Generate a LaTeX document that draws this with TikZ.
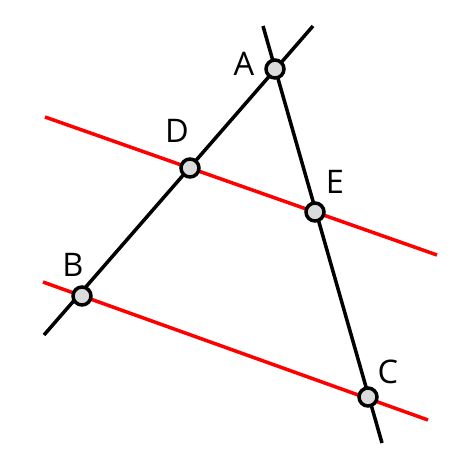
\documentclass[tikz,border=0pt]{standalone}
\usepackage{fontspec}
\setmainfont{Open Sans}
\begin{document}
\begin{tikzpicture}[x=0.02cm, y=-0.02cm]
    \tikzset{%
      pt/.style={circle, draw, line width=2pt, fill=black!14, minimum size=0.36cm, inner sep=0pt},
      lbl/.style={font=\fontsize{18.5}{20}\selectfont, text height=1.5ex, text depth=0ex},
      side/.style={line width=2pt},
      parallel/.style={line width=2pt, red}
      }
    \useasboundingbox (0,0) rectangle (474,467);

    % ends of the lines
    \coordinate (ABtop) at (313,26);
    \coordinate (ABbot) at (44,335);
    \coordinate (ACtop) at (263,26);
    \coordinate (ACbot) at (382,443);
    \coordinate (DEleft) at (45,117);
    \coordinate (DEright) at (437,255);
    \coordinate (BCleft) at (43,282);
    \coordinate (BCright) at (428,420);

    \draw [side] (ABtop) -- (ABbot);
    \draw [side] (ACtop) -- (ACbot);
    \draw [parallel] (DEleft) -- (DEright);
    \draw [parallel] (BCleft) -- (BCright);

    \node [pt] (A) at (275,69) {};
    \node [pt] (D) at (190,168) {};
    \node [pt] (E) at (315,212) {};
    \node [pt] (B) at (82,296) {};
    \node [pt] (C) at (368,397) {};

    \node [lbl] (labA) at (244,68) {A};
    \node [lbl] (labD) at (177,135) {D};
    \node [lbl] (labE) at (335,186) {E};
    \node [lbl] (labB) at (73,269) {B};
    \node [lbl] (labC) at (388,376) {C};
\end{tikzpicture}
\end{document}
